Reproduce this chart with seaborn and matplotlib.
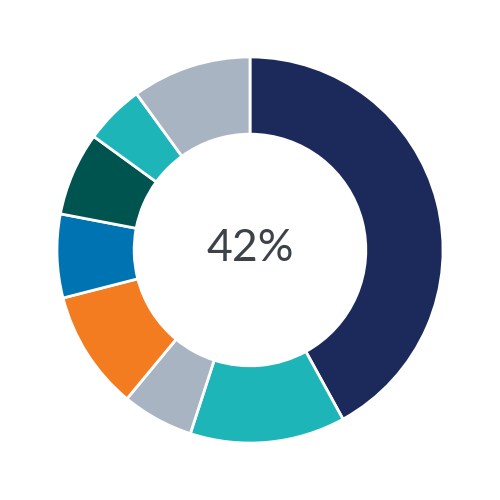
import matplotlib

matplotlib.use("Agg")
import matplotlib.pyplot as plt
import seaborn as sns

# slices, clockwise from 12 o'clock
segments = ["A", "B", "C", "D", "E", "F", "G", "H"]
shares = [42, 13, 6, 10, 7, 7, 5, 10]
colors = [
    "#1c2a5b",
    "#1db5b7",
    "#a9b4c3",
    "#f47c20",
    "#0073b3",
    "#00544f",
    "#1db5b7",
    "#a9b4c3",
]
centerLabel = "42%"


def plotDonut(fp: str) -> None:
    sns.set_theme(style="white")
    plt.rcParams["font.family"] = ["Lato", "DejaVu Sans"]

    fig, ax = plt.subplots(figsize=(5, 5), dpi=100)
    fig.subplots_adjust(left=0, right=1, bottom=0, top=1)

    ax.pie(
        shares,
        colors=colors,
        startangle=90,
        counterclock=False,
        radius=1.0,
        wedgeprops={"width": 0.4, "edgecolor": "white", "linewidth": 2},
    )
    ax.text(
        0,
        0.01,
        centerLabel,
        ha="center",
        va="center",
        fontsize=32,
        fontweight="normal",
        color="#3d4148",
    )
    ax.set_xlim(-1.295, 1.295)
    ax.set_ylim(-1.295, 1.295)
    ax.set_aspect("equal")
    ax.axis("off")

    fig.savefig(fp, dpi=100)
    plt.close(fig)


if __name__ == "__main__":
    plotDonut("out.png")
